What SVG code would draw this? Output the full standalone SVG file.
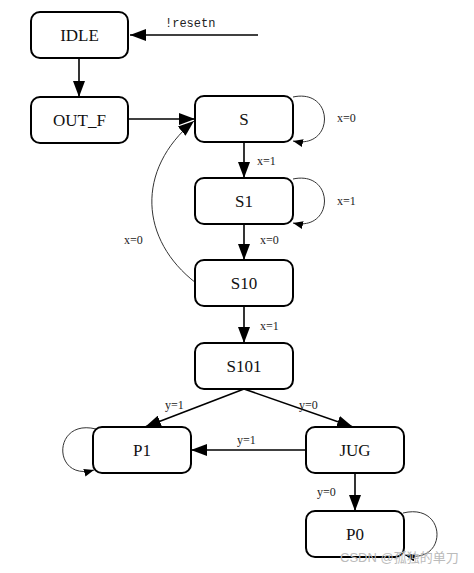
<svg xmlns="http://www.w3.org/2000/svg" width="474" height="573" viewBox="0 0 474 573">
<defs>
<marker id="big" viewBox="0 0 16 12" refX="16" refY="6" markerWidth="16" markerHeight="12" markerUnits="userSpaceOnUse" orient="auto">
<path d="M0,0 L16,6 L0,12 Z" fill="#000"/>
</marker>
<marker id="small" viewBox="0 0 10 8" refX="10" refY="4" markerWidth="10" markerHeight="8" markerUnits="userSpaceOnUse" orient="auto">
<path d="M0,0 L10,4 L0,8 Z" fill="#000"/>
</marker>
</defs>
<style>
.node rect{fill:#fff;stroke:#000;stroke-width:2}
.node text{font-family:"Liberation Serif",serif;font-size:17px;text-anchor:middle;dominant-baseline:central;fill:#111}
.e{fill:none;stroke:#000;stroke-width:1.6}
.t{fill:none;stroke:#333;stroke-width:1}
.lbl{font-family:"Liberation Serif",serif;font-size:12px;fill:#222}
.mono{font-family:"Liberation Mono",monospace;font-size:12px;fill:#222}
</style>
<rect width="474" height="573" fill="#fff"/>
<g id="connectors">
<path class="e" d="M258,35 L130,35" marker-end="url(#big)"/>
<text class="mono" x="165" y="27">!resetn</text>
<path class="e" d="M79,58 L79,97" marker-end="url(#big)"/>
<path class="e" d="M128,119 L195,119" marker-end="url(#big)"/>
<path class="t" d="M293,97 C335,88 335,150 293,141" marker-end="url(#small)"/>
<text class="lbl" x="337" y="122">x=0</text>
<path class="e" d="M244,142 L244,178" marker-end="url(#big)"/>
<text class="lbl" x="257" y="165">x=1</text>
<path class="t" d="M293,179 C335,170 335,232 293,223" marker-end="url(#small)"/>
<text class="lbl" x="337" y="205">x=1</text>
<path class="e" d="M244,224 L244,260" marker-end="url(#big)"/>
<text class="lbl" x="260" y="244">x=0</text>
<path class="t" d="M196,283 C140,240 135,170 194,121" marker-end="url(#big)"/>
<text class="lbl" x="124" y="244">x=0</text>
<path class="e" d="M244,306 L244,343" marker-end="url(#big)"/>
<text class="lbl" x="260" y="330">x=1</text>
<path class="e" d="M244,389 L145,427" marker-end="url(#big)"/>
<text class="lbl" x="165" y="409">y=1</text>
<path class="e" d="M244,389 L353,427" marker-end="url(#big)"/>
<text class="lbl" x="299" y="409">y=0</text>
<path class="e" d="M306,450 L191,450" marker-end="url(#big)"/>
<text class="lbl" x="237" y="444">y=1</text>
<path class="e" d="M355,473 L355,511" marker-end="url(#big)"/>
<text class="lbl" x="317" y="496">y=0</text>
<path class="t" d="M96,429 C52,418 52,482 94,470" marker-end="url(#small)"/>
<path class="t" d="M403,513 C448,502 448,566 405,555" marker-end="url(#small)"/>
</g>
<g id="IDLE" class="node"><rect x="31" y="12" width="97" height="46" rx="9"/><text x="79.5" y="35">IDLE</text></g>
<g id="OUT_F" class="node"><rect x="31" y="97" width="97" height="46" rx="9"/><text x="79.5" y="120">OUT_F</text></g>
<g id="S" class="node"><rect x="195" y="96" width="98" height="46" rx="9"/><text x="244" y="119">S</text></g>
<g id="S1" class="node"><rect x="195" y="178" width="98" height="46" rx="9"/><text x="244" y="201">S1</text></g>
<g id="S10" class="node"><rect x="195" y="260" width="98" height="46" rx="9"/><text x="244" y="283">S10</text></g>
<g id="S101" class="node"><rect x="195" y="343" width="98" height="46" rx="9"/><text x="244" y="366">S101</text></g>
<g id="P1" class="node"><rect x="93" y="427" width="98" height="46" rx="9"/><text x="142" y="450">P1</text></g>
<g id="JUG" class="node"><rect x="306" y="427" width="98" height="46" rx="9"/><text x="355" y="450">JUG</text></g>
<g id="P0" class="node"><rect x="306" y="511" width="98" height="46" rx="9"/><text x="355" y="534">P0</text></g>
<text x="340" y="562" style="font-family:'Liberation Sans','Noto Sans CJK SC',sans-serif;font-size:13px;fill:#bbb">CSDN @孤独的单刀</text>
</svg>
